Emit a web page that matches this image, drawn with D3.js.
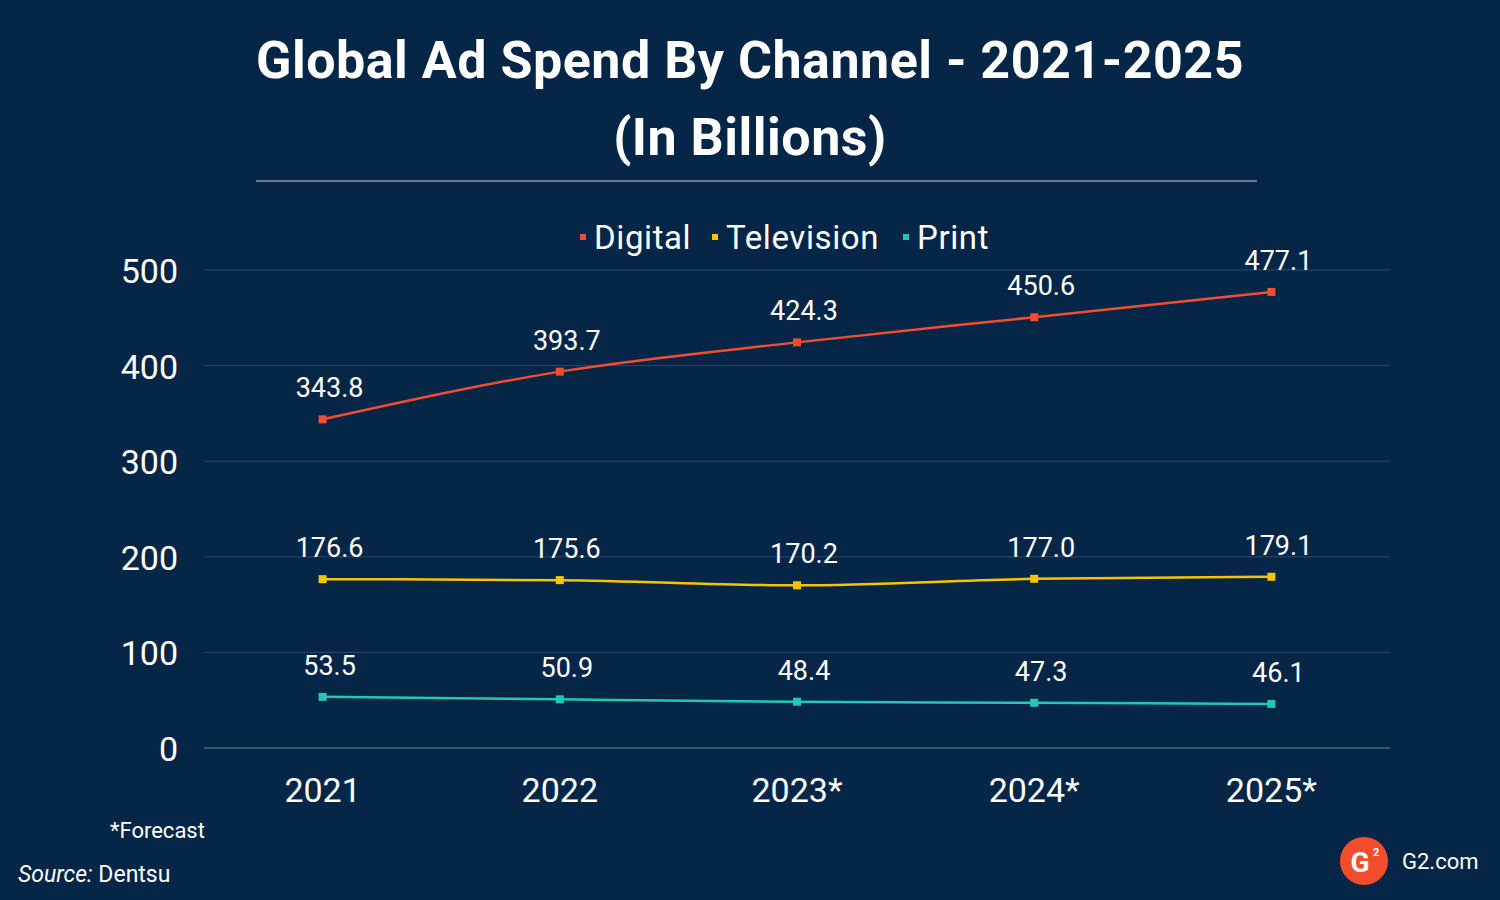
<!DOCTYPE html>
<html><head><meta charset="utf-8">
<script src="https://cdn.jsdelivr.net/npm/d3@7"></script>
<style>body{margin:0;background:#062647;}svg{display:block;font-family:Roboto,"Open Sans",sans-serif;}</style>
</head><body><div id="vis"></div>
<script>
// data
const YEARS = ['2021', '2022', '2023*', '2024*', '2025*'];
const DIGITAL = [343.8, 393.7, 424.3, 450.6, 477.1];
const TELEVISION = [176.6, 175.6, 170.2, 177.0, 179.1];
const PRINT = [53.5, 50.9, 48.4, 47.3, 46.1];
const Y_TICKS = [0, 100, 200, 300, 400, 500];

const SERIES = [
    {name: 'Digital', values: DIGITAL, color: '#f34d2e'},
    {name: 'Television', values: TELEVISION, color: '#f8c400'},
    {name: 'Print', values: PRINT, color: '#21c8b6'}
];

const FRAME_WIDTH = 1500, FRAME_HEIGHT = 900;
const MARGINS = {left: 204, right: 110, top: 270, bottom: 152};

const FRAME = d3.select('#vis').append('svg')
    .attr('width', FRAME_WIDTH).attr('height', FRAME_HEIGHT);

FRAME.append('rect').attr('width', FRAME_WIDTH).attr('height', FRAME_HEIGHT).attr('fill', '#062647');

// title
FRAME.append('text').attr('x', 750).attr('y', 78).attr('text-anchor', 'middle')
    .attr('fill', 'white').attr('font-size', 52).attr('font-weight', 'bold').attr('letter-spacing', 0.5)
    .text('Global Ad Spend By Channel - 2021-2025');
FRAME.append('text').attr('x', 750).attr('y', 155).attr('text-anchor', 'middle')
    .attr('fill', 'white').attr('font-size', 52).attr('font-weight', 'bold').attr('letter-spacing', 0.5)
    .text('(In Billions)');
FRAME.append('line').attr('x1', 256).attr('x2', 1257).attr('y1', 181).attr('y2', 181)
    .attr('stroke', '#c8d0da').attr('stroke-width', 1.2);

const X_SCALE = d3.scalePoint().domain(YEARS)
    .range([MARGINS.left, FRAME_WIDTH - MARGINS.right]).padding(0.5);
const Y_SCALE = d3.scaleLinear().domain([0, 500])
    .range([FRAME_HEIGHT - MARGINS.bottom, MARGINS.top]);

// grid + y labels
FRAME.append('g').selectAll('line').data(Y_TICKS).enter().append('line')
    .attr('x1', MARGINS.left).attr('x2', FRAME_WIDTH - MARGINS.right)
    .attr('y1', d => Y_SCALE(d)).attr('y2', d => Y_SCALE(d))
    .attr('stroke', d => d === 0 ? '#6d7f94' : '#2c4866').attr('stroke-width', 1);
FRAME.append('g').selectAll('text').data(Y_TICKS).enter().append('text')
    .attr('x', 178).attr('y', d => Y_SCALE(d) + 13).attr('text-anchor', 'end')
    .attr('fill', 'white').attr('font-size', 34).text(d => d);

// x labels
FRAME.append('g').selectAll('text').data(YEARS).enter().append('text')
    .attr('x', d => X_SCALE(d)).attr('y', 802).attr('text-anchor', 'middle')
    .attr('fill', 'white').attr('font-size', 34).text(d => d);

const LINE = d3.line().x((d, i) => X_SCALE(YEARS[i])).y(d => Y_SCALE(d)).curve(d3.curveMonotoneX);

SERIES.forEach(s => {
    FRAME.append('path').attr('d', LINE(s.values)).attr('fill', 'none')
        .attr('stroke', s.color).attr('stroke-width', 2.5);
    FRAME.append('g').selectAll('rect').data(s.values).enter().append('rect')
        .attr('x', (d, i) => X_SCALE(YEARS[i]) - 4).attr('y', d => Y_SCALE(d) - 4)
        .attr('width', 8).attr('height', 8).attr('fill', s.color);
    FRAME.append('g').selectAll('text').data(s.values).enter().append('text')
        .attr('x', (d, i) => X_SCALE(YEARS[i]) + 7).attr('y', d => Y_SCALE(d) - 22)
        .attr('text-anchor', 'middle').attr('fill', 'white').attr('font-size', 27)
        .text(d => d.toFixed(1));
});

// legend
const LEGEND_X = [580, 712, 903];
SERIES.forEach((s, i) => {
    FRAME.append('rect').attr('x', LEGEND_X[i]).attr('y', 234).attr('width', 6).attr('height', 6).attr('fill', s.color);
    FRAME.append('text').attr('x', LEGEND_X[i] + 14).attr('y', 249).attr('fill', 'white')
        .attr('font-size', 33).attr('letter-spacing', 0.6).text(s.name);
});

// footnotes
FRAME.append('text').attr('x', 110).attr('y', 838).attr('fill', 'white').attr('font-size', 22).text('*Forecast');
const SRC = FRAME.append('text').attr('x', 18).attr('y', 882).attr('fill', 'white').attr('font-size', 23);
SRC.append('tspan').attr('font-style', 'italic').text('Source:');
SRC.append('tspan').text(' Dentsu');

// logo
FRAME.append('circle').attr('cx', 1364).attr('cy', 861).attr('r', 24).attr('fill', '#f34d2e');
FRAME.append('text').attr('x', 1360).attr('y', 872).attr('text-anchor', 'middle').attr('fill', 'white')
    .attr('font-size', 28).attr('font-weight', 'bold').text('G');
FRAME.append('text').attr('x', 1373).attr('y', 856).attr('fill', 'white').attr('font-size', 11).attr('font-weight', 'bold').text('2');
FRAME.append('text').attr('x', 1402).attr('y', 869).attr('fill', 'white').attr('font-size', 22).text('G2.com');
</script></body></html>
